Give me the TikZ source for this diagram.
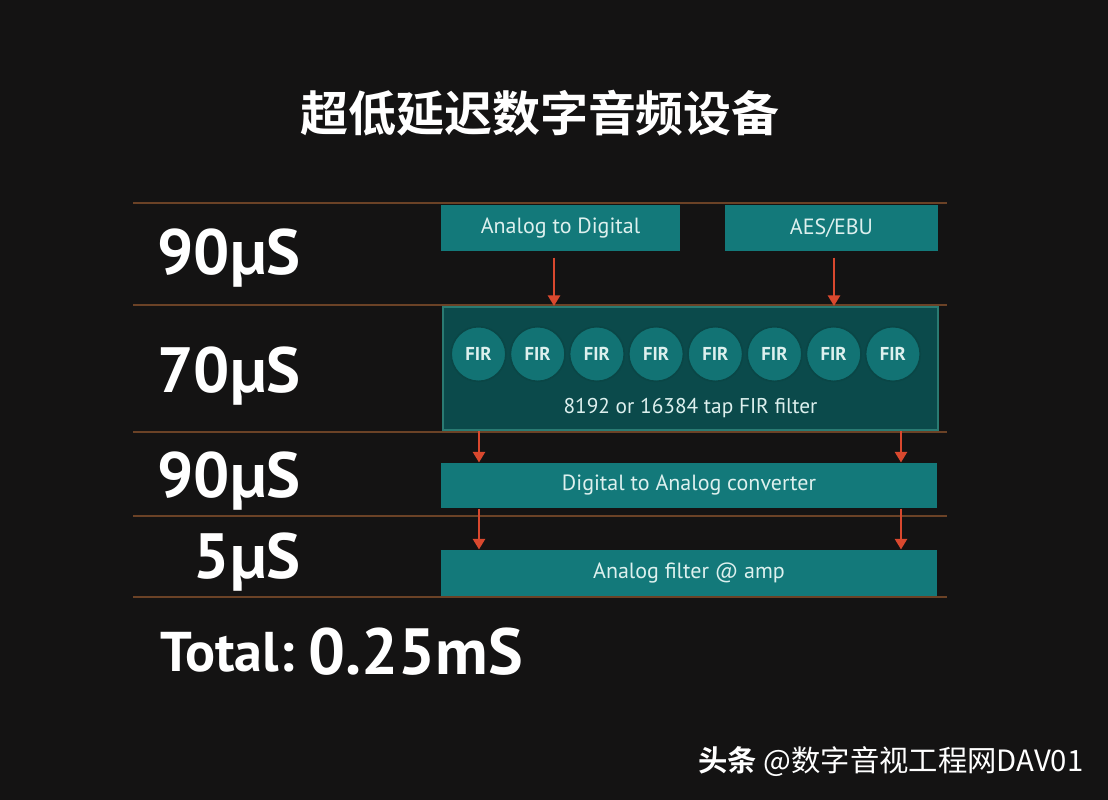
\documentclass[tikz,border=0pt]{standalone}
\usepackage{fontspec}
\setmainfont{PT Sans}
\newfontfamily\cjk[BoldFont={Noto Sans CJK SC Bold}]{Noto Sans CJK SC}
\usetikzlibrary{arrows.meta}
\definecolor{bgdark}{HTML}{141313}
\definecolor{rowbrown}{HTML}{6B4226}
\definecolor{boxteal}{HTML}{13797A}
\definecolor{firfill}{HTML}{0B4A4B}
\definecolor{firedge}{HTML}{2A7A72}
\definecolor{dotteal}{HTML}{127374}
\definecolor{dotedge}{HTML}{0A4646}
\definecolor{textlight}{HTML}{DDF0EE}
\definecolor{arrowred}{HTML}{D9482E}
\tikzset{every picture/.style={line width=0.75pt}}
\begin{document}
\begin{tikzpicture}[x=0.75pt,y=0.75pt,yscale=-1,xscale=1,
  tealbox/.style={fill=boxteal, text=textlight, inner sep=0pt, font=\fontsize{16.5}{18}\selectfont},
  firdot/.style={circle, fill=dotteal, draw=dotedge, line width=1.2pt, minimum size=41pt, inner sep=0pt, text=textlight, font=\bfseries\fontsize{14}{16}\selectfont},
  rowline/.style={draw=rowbrown, line width=1.5pt},
  redarrow/.style={draw=arrowred, line width=2pt, -{Triangle[width=9pt,length=8pt]}},
  timelabel/.style={anchor=east, inner sep=0pt, text=white, font=\bfseries\fontsize{48}{52}\selectfont}]
%set diagram size 1108 x 800
\fill [bgdark] (0,0) rectangle (1108,800);
\useasboundingbox (0,0) rectangle (1108,800);
%Straight Lines (row separators)
\draw [rowline] (133,203) -- (947,203) ;
\draw [rowline] (133,305) -- (947,305) ;
\draw [rowline] (133,432) -- (947,432) ;
\draw [rowline] (133,516) -- (947,516) ;
\draw [rowline] (133,597) -- (947,597) ;
% Text Node (title)
\draw (540,113) node (title) [inner sep=0pt, text=white, font=\cjk\bfseries\fontsize{36}{40}\selectfont] {超低延迟数字音频设备};
% Text Node (row times)
\draw (301,258) node (t1) [timelabel] {90µS};
\draw (301,376) node (t2) [timelabel] {70µS};
\draw (301,481) node (t3) [timelabel] {90µS};
\draw (301,562) node (t4) [timelabel] {5µS};
% Text Node (total)
\draw (160,652) node (tot) [anchor=west, inner sep=0pt, text=white, font=\bfseries\fontsize{42}{46}\selectfont] {Total:};
\draw (308,652) node (totval) [anchor=west, inner sep=0pt, text=white, font=\bfseries\fontsize{49}{53}\selectfont] {0.25mS};
%Rect (inputs)
\draw (560.5,228) node (a2d) [tealbox, minimum width=179.25pt, minimum height=34.5pt] {Analog to Digital};
\draw (831.5,228) node (aes) [tealbox, minimum width=159.75pt, minimum height=34.5pt] {AES/EBU};
%Rect (FIR block)
\draw (690.5,368.5) node (fir) [fill=firfill, draw=firedge, line width=1.5pt, minimum width=371.25pt, minimum height=92.25pt, inner sep=0pt] {};
%Circles
\draw (478.5,354) node (f1) [firdot] {FIR};
\draw (537.7,354) node (f2) [firdot] {FIR};
\draw (596.9,354) node (f3) [firdot] {FIR};
\draw (656.1,354) node (f4) [firdot] {FIR};
\draw (715.3,354) node (f5) [firdot] {FIR};
\draw (774.5,354) node (f6) [firdot] {FIR};
\draw (833.7,354) node (f7) [firdot] {FIR};
\draw (892.9,354) node (f8) [firdot] {FIR};
\draw (690.5,408) node (firtxt) [inner sep=0pt, text=textlight, font=\fontsize{16}{18}\selectfont] {8192 or 16384 tap FIR filter};
%Rect (outputs)
\draw (689,485.5) node (dac) [tealbox, minimum width=372pt, minimum height=33.75pt] {Digital to Analog converter};
\draw (689,573) node (afa) [tealbox, minimum width=372pt, minimum height=34.5pt] {Analog filter @ amp};
%Straight Lines (arrows)
\coordinate (xa) at (554,0);
\coordinate (xb) at (834,0);
\coordinate (xc) at (479,0);
\coordinate (xd) at (901,0);
\draw [redarrow, shorten <=4.5pt] (a2d.south -| xa) -- (fir.north -| xa) ;
\draw [redarrow, shorten <=4.5pt] (aes.south -| xb) -- (fir.north -| xb) ;
\draw [redarrow] (fir.south -| xc) -- (dac.north -| xc) ;
\draw [redarrow] (fir.south -| xd) -- (dac.north -| xd) ;
\draw [redarrow] (dac.south -| xc) -- (afa.north -| xc) ;
\draw [redarrow] (dac.south -| xd) -- (afa.north -| xd) ;
% Text Node (watermark)
\draw (698,762) node (mark) [anchor=west, inner sep=0pt, text=white, font=\cjk\fontsize{22}{25}\selectfont] {\textbf{头条} @数字音视工程网DAV01};
\end{tikzpicture}
\end{document}
